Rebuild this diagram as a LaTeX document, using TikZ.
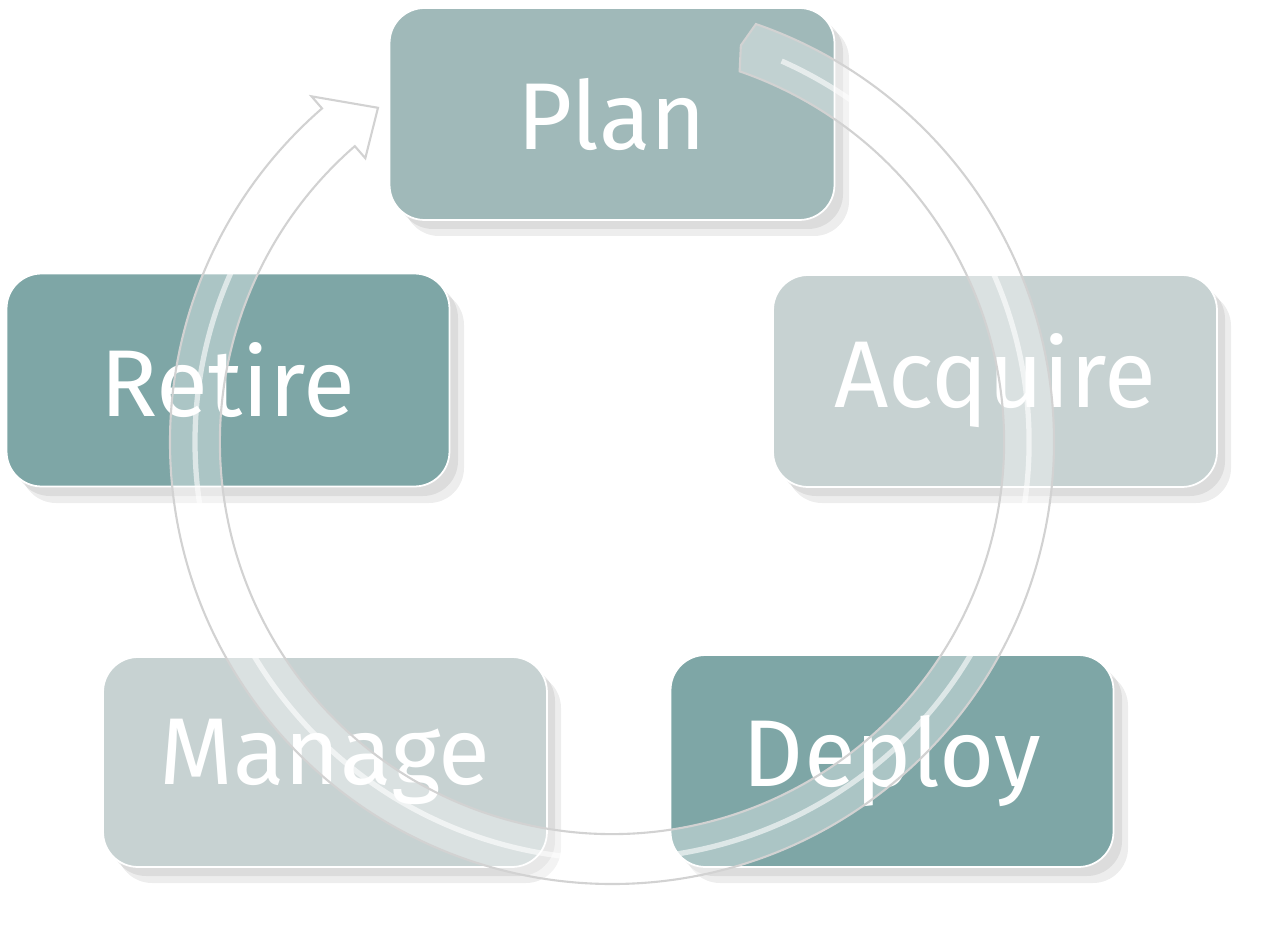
\documentclass[tikz,border=0pt]{standalone}
\usepackage{fontspec}
\setmainfont{Fira Sans}
\begin{document}
\begin{tikzpicture}[x=0.02cm,y=-0.02cm,
  box/.style={rounded corners=0.7cm,draw=white,line width=1pt,text=white,font=\fontsize{54}{64}\selectfont},
  shadow/.style={rounded corners=0.7cm,fill=black,fill opacity=0.07}]
\useasboundingbox (0,0) rectangle (1277,942);
\foreach \a/\b/\c/\d in {390/8/835/220,773/275/1217/487,671/655/1114/867,103/657/547/867,7/274/450/487}{
  \fill[shadow] (\a+14,\b+16) rectangle (\c+14,\d+16);
  \fill[shadow] (\a+8,\b+9) rectangle (\c+8,\d+9);}
\node[box,fill=teal!35!gray!55,minimum width=8.9cm,minimum height=4.24cm] (plan) at (612,114) {Plan};
\node[box,fill=teal!25!gray!35,minimum width=8.88cm,minimum height=4.24cm] (acq) at (995,381) {Acquire};
\node[box,fill=teal!45!gray!70,minimum width=8.86cm,minimum height=4.24cm] (dep) at (892,761) {Deploy};
\node[box,fill=teal!25!gray!35,minimum width=8.88cm,minimum height=4.2cm] (man) at (325,762) {Manage};
\node[box,fill=teal!45!gray!70,minimum width=8.86cm,minimum height=4.26cm] (ret) at (228,380) {Retire};
\coordinate (c) at (612,442);
\begin{scope}[shift={(c)},x=0.02cm,y=0.02cm]
\draw[line width=1.2pt,draw=gray!35,fill=white,fill opacity=0.35]
  (71:442) -- (72:417) -- (71:392) arc[start angle=71,end angle=-229,radius=392]
  -- (-229:376) -- (-235:408) -- (-229:458) -- (-229:442)
  arc[start angle=-229,end angle=71,radius=442] -- cycle;
\draw[line width=3pt,white,opacity=0.6] (66:417) arc[start angle=66,end angle=-226,radius=417];
\end{scope}
\end{tikzpicture}
\end{document}
